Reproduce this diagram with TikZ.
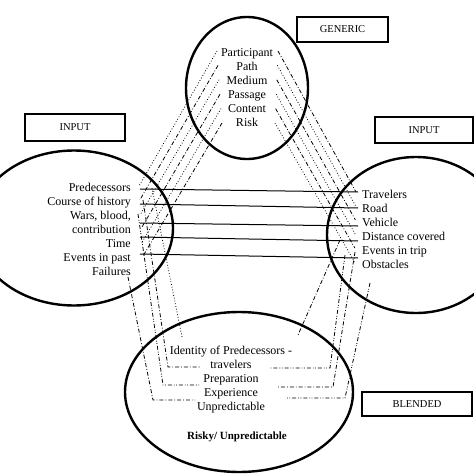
\documentclass[tikz,border=0pt]{standalone}
\usepackage{fontspec}
\setmainfont{Liberation Serif}
\usetikzlibrary{shapes.geometric}
\tikzset{
  space/.style={draw, ellipse, line width=2.4pt, inner sep=0pt},
  tag/.style={draw, line width=2.2pt, inner sep=0pt, font=\fontsize{10.5}{12}\selectfont},
  txt/.style={inner sep=0pt, font=\fontsize{12}{14}\selectfont},
  solidlink/.style={line width=1pt},
  dotlink/.style={line width=0.8pt, dotted},
  dashlink/.style={line width=0.8pt, dash pattern=on 4pt off 2pt on 0.8pt off 2pt},
  dddlink/.style={line width=0.8pt, dash pattern=on 4pt off 2pt on 0.8pt off 1.5pt on 0.8pt off 2pt},
}
\begin{document}
\begin{tikzpicture}[x=1pt,y=-1pt]
\useasboundingbox (0,0) rectangle (474,474);
\clip (0,0) rectangle (474,474);

% ellipses
\node[space, minimum width=122pt, minimum height=142pt] (gen) at (247,88) {};
\node[space, minimum width=198pt, minimum height=155pt] (inl) at (74,228) {};
\node[space, minimum width=178pt, minimum height=156pt] (inr) at (416,235) {};
\node[space, minimum width=228pt, minimum height=160pt] (bl) at (239,392) {};

% label boxes
\node[tag, minimum width=91pt, minimum height=25pt] (tgen) at (342.5,29.5) {GENERIC};
\node[tag, minimum width=100pt, minimum height=27pt] (tinl) at (75,127.5) {INPUT};
\node[tag, minimum width=98pt, minimum height=26pt] (tinr) at (424,130) {INPUT};
\node[tag, minimum width=110pt, minimum height=24pt] (tbl) at (417,404) {BLENDED};

% texts
\node[txt, align=center] (tg) at (247,88) {Participant\\Path\\Medium\\Passage\\Content\\Risk};
\node[txt, align=right, anchor=east] (tl) at (131,229) {Predecessors\\Course of history\\Wars, blood,\\contribution\\Time\\Events in past\\Failures};
\node[txt, align=left, anchor=west] (tr) at (362,229.5) {Travelers\\Road\\Vehicle\\Distance covered\\Events in trip\\Obstacles};
\node[txt, align=center] (tb) at (231,380) {Identity of Predecessors -\\travelers\\Preparation\\Experience\\Unpredictable};
\node[txt, font=\fontsize{11}{13}\selectfont\bfseries] (tbr) at (237,437) {Risky/ Unpredictable};

% solid cross-space links
\foreach \i/\yl/\yr in {1/189/192, 2/204/208, 3/223/226, 4/237/241, 5/254/258}{
  \coordinate (hl\i) at (140,\yl);
  \coordinate (hr\i) at (358,\yr);
  \draw[solidlink] (hl\i) -- (hr\i);
}

% generic -> left input
\foreach \i/\st in {0/dotlink, 1/dashlink, 2/dotlink, 3/dashlink, 4/dotlink, 5/dashlink}{
  \coordinate (gl\i) at ({217+1*\i},{51+14.4*\i});
  \coordinate (il\i) at ({139+0.8*\i},{186+14*\i});
  \draw[\st] (gl\i) -- (il\i);
}
% generic -> right input
\foreach \i/\st in {0/dashlink, 1/dotlink, 2/dashlink, 3/dotlink, 4/dashlink, 5/dotlink}{
  \coordinate (gr\i) at ({278-0.6*\i},{51+14.4*\i});
  \coordinate (ir\i) at ({356-0.3*\i},{192+14*\i});
  \draw[\st] (gr\i) -- (ir\i);
}

% left input -> blended
\coordinate (la0) at (128,277); \coordinate (lb0) at (195,400);
\coordinate (la1) at (138,214); \coordinate (lb1) at (200,385);
\coordinate (la2) at (143,200); \coordinate (lb2) at (200,367);
\coordinate (la3) at (152,188); \coordinate (lb3) at (182,337);
\draw[dashlink] (la0) -- (153,400) -- (lb0);
\draw[dddlink] (la1) -- (163,385) -- (lb1);
\draw[dashlink] (la2) -- (168,367) -- (lb2);
\draw[dotlink] (la3) -- (lb3);

% right input -> blended
\coordinate (ra0) at (340,240); \coordinate (rb0) at (298,335);
\coordinate (ra1) at (345,255); \coordinate (rb1) at (270,368);
\coordinate (ra2) at (355,252); \coordinate (rb2) at (277,387);
\coordinate (ra3) at (370,283); \coordinate (rb3) at (285,398);
\draw[dashlink] (ra0) -- (rb0);
\draw[dddlink] (ra1) -- (330,368) -- (rb1);
\draw[dashlink] (ra2) -- (333,387) -- (rb2);
\draw[dddlink] (ra3) -- (345,398) -- (rb3);
\end{tikzpicture}
\end{document}
